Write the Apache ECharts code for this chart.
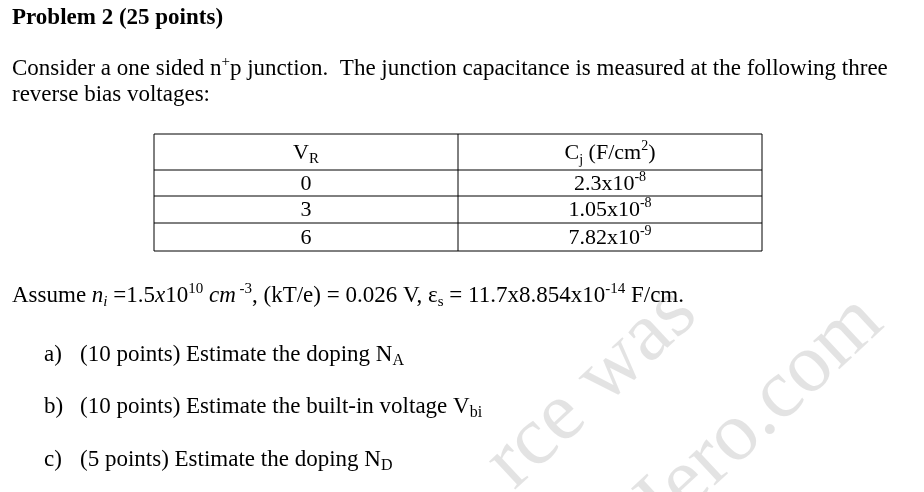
<!DOCTYPE html>
<html>
<head>
<meta charset="utf-8">
<script src="https://cdn.jsdelivr.net/npm/echarts@6/dist/echarts.min.js"></script>
<style>
html,body{margin:0;padding:0;background:#fff;}
#c{width:924px;height:492px;}
</style>
</head>
<body>
<div id="c"></div>
<script>
// ---- data ----
var tableHeaders = ['V_R', 'C_j (F/cm^2)'];
var vrValues = ['0', '3', '6'];
var cjMantissa = ['2.3', '1.05', '7.82'];
var cjExponent = ['-8', '-8', '-9'];
var titleText = 'Problem 2 (25 points)';
var introLine1 = ['Consider a one sided n', '+', 'p junction.  The junction capacitance is measured at the following three'];
var introLine2 = 'reverse bias voltages:';
var questionLabels = ['a)', 'b)', 'c)'];
var questionTexts = ['(10 points) Estimate the doping N', '(10 points) Estimate the built-in voltage V', '(5 points) Estimate the doping N'];
var questionSubs = ['A', 'bi', 'D'];
var watermark = ['rce was', 'Hero.com'];

var SERIF = '"Liberation Serif","Times New Roman",serif';
var FS = 23;
var LH = 28;

function rich(fs) {
  var s = Math.round(fs * 0.64);
  return {
    m:   {fontSize: fs, fontFamily: SERIF, color: '#000', lineHeight: LH},
    mi:  {fontSize: fs, fontFamily: SERIF, fontStyle: 'italic', color: '#000', lineHeight: LH},
    sup: {fontSize: s, fontFamily: SERIF, color: '#000', lineHeight: s + 1, verticalAlign: 'top'},
    sub: {fontSize: s, fontFamily: SERIF, color: '#000', lineHeight: s + 1, verticalAlign: 'bottom'},
    subi:{fontSize: s, fontFamily: SERIF, fontStyle: 'italic', color: '#000', lineHeight: s + 1, verticalAlign: 'bottom'},
    lo:  {fontSize: s + 1, fontFamily: SERIF, color: '#000', lineHeight: LH - 6, verticalAlign: 'bottom'}
  };
}
function t(style, s) { return '{' + style + '|' + s + '}'; }
function lineEl(x, yTop, text, fs, align) {
  return {
    type: 'text', x: x, y: yTop, silent: true,
    style: {text: text, rich: rich(fs || FS), align: align || 'left', verticalAlign: 'top'}
  };
}

var g = [];
// title
g.push({type: 'text', x: 12, y: 18, style: {text: titleText, font: 'bold 23px ' + SERIF, fill: '#000', verticalAlign: 'middle'}});
// intro
g.push(lineEl(12, 55, t('m', introLine1[0]) + t('sup', introLine1[1]) + t('m', introLine1[2])));
g.push(lineEl(12, 81, t('m', introLine2)));

// table
var tx0 = 154, tx1 = 458, tx2 = 762;
var rowY = [134, 170, 196, 223, 251];
g.push({type: 'rect', shape: {x: tx0, y: rowY[0], width: tx2 - tx0, height: rowY[4] - rowY[0]}, style: {fill: null, stroke: '#000', lineWidth: 1}});
g.push({type: 'line', shape: {x1: tx1, y1: rowY[0], x2: tx1, y2: rowY[4]}, style: {stroke: '#000', lineWidth: 1}});
for (var i = 1; i < 4; i++) {
  g.push({type: 'line', shape: {x1: tx0, y1: rowY[i], x2: tx2, y2: rowY[i]}, style: {stroke: '#000', lineWidth: 1}});
}
var c1 = (tx0 + tx1) / 2, c2 = (tx1 + tx2) / 2;
function cellTop(r) { return (rowY[r] + rowY[r + 1]) / 2 - LH / 2 + 1; }
var TFS = 22;
var h0 = tableHeaders[0].split('_');
g.push(lineEl(c1, cellTop(0), t('m', h0[0]) + t('lo', h0[1]), TFS, 'center'));
var h1 = tableHeaders[1].match(/^(.)_(.)(.*)\^(.)(.*)$/);
g.push(lineEl(c2, cellTop(0), t('m', h1[1]) + t('sub', h1[2]) + t('m', h1[3]) + t('sup', h1[4]) + t('m', h1[5]), TFS, 'center'));
for (var r = 0; r < vrValues.length; r++) {
  g.push(lineEl(c1, cellTop(r + 1), t('m', vrValues[r]), TFS, 'center'));
  g.push(lineEl(c2, cellTop(r + 1), t('m', cjMantissa[r] + 'x10') + t('sup', cjExponent[r]), TFS, 'center'));
}

// assume line
g.push(lineEl(12, 282,
  t('m', 'Assume ') + t('mi', 'n') + t('subi', 'i') + t('m', ' =1.5') + t('mi', 'x') + t('m', '10') + t('sup', '10') +
  t('mi', ' cm') + t('sup', ' -3') + t('m', ', (kT/e) = 0.026 V, \u03b5') + t('sub', 's') +
  t('m', ' = 11.7x8.854x10') + t('sup', '-14') + t('m', ' F/cm.')));

// questions
var qTop = [341, 393, 446];
for (var q = 0; q < 3; q++) {
  g.push(lineEl(44, qTop[q], t('m', questionLabels[q])));
  g.push(lineEl(80, qTop[q], t('m', questionTexts[q]) + t('lo', questionSubs[q])));
}

// watermark (anchored at the end of each string)
var deg = 43, rot = deg * Math.PI / 180, WF = 84;
var dx = Math.cos(rot), dy = -Math.sin(rot);
var wmCenters = [[592, 388, 1.513], [771, 403, 1.625]];
for (var w = 0; w < 2; w++) {
  var cx = wmCenters[w][0] + wmCenters[w][2] * WF * dx;
  var cy = wmCenters[w][1] + wmCenters[w][2] * WF * dy;
  g.push({type: 'text', x: cx, y: cy, rotation: rot, silent: true, z: -1,
    style: {text: watermark[w], font: WF + 'px ' + SERIF, fill: 'rgba(0,0,0,0.11)', align: 'right', verticalAlign: 'middle'}});
}

var chart = echarts.init(document.getElementById('c'));
chart.setOption({backgroundColor: '#fff', animation: false, graphic: g});
</script>
</body>
</html>
